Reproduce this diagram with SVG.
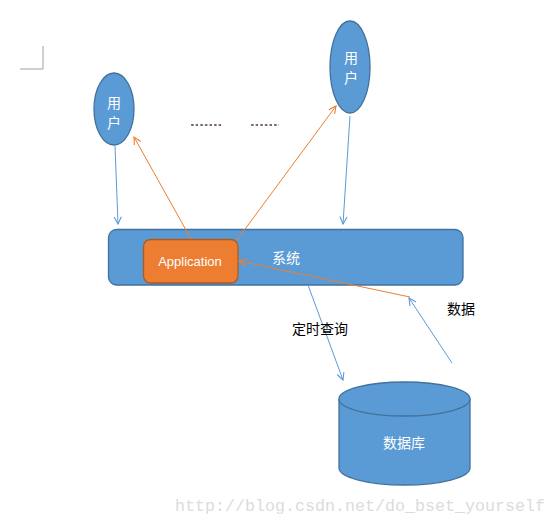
<svg xmlns="http://www.w3.org/2000/svg" width="557" height="524" viewBox="0 0 557 524">
<defs>
<style>
.blue{fill:#5b9bd5;stroke:#41719c;stroke-width:1.3}
.orange{fill:#ed7d31;stroke:#ae5a21;stroke-width:1.3}
.wt{fill:#ffffff;font-family:"Noto Sans CJK SC","Liberation Sans",sans-serif;font-size:14px;text-anchor:middle}
.bt{fill:#000000;font-family:"Noto Sans CJK SC","Liberation Sans",sans-serif;font-size:14px}
.cb{stroke:#5b9bd5;stroke-width:1;fill:none}
.co{stroke:#ed7d31;stroke-width:1;fill:none}
.dO{stroke:#c0703a;stroke-width:2.2;stroke-dasharray:2.4,2.2}
.dB{stroke:#3a6f9a;stroke-width:2.2;stroke-dasharray:1.2,3.4}
</style>
<marker id="ab" viewBox="0 0 10 10" refX="9" refY="5" markerWidth="9" markerHeight="9" orient="auto" markerUnits="userSpaceOnUse"><path d="M1,1 L9,5 L1,9" fill="none" stroke="#5b9bd5" stroke-width="1.2"/></marker>
<marker id="ao" viewBox="0 0 10 10" refX="9" refY="5" markerWidth="9" markerHeight="9" orient="auto" markerUnits="userSpaceOnUse"><path d="M1,1 L9,5 L1,9" fill="none" stroke="#ed7d31" stroke-width="1.2"/></marker>
</defs>
<rect width="557" height="524" fill="#ffffff"/>
<path d="M43,46 V69 H20" fill="none" stroke="#a0a0a0" stroke-width="1"/>
<g id="dots">
<line class="dO" x1="191" y1="125" x2="223" y2="125"/>
<line class="dB" x1="192.2" y1="125" x2="223" y2="125"/>
<line class="dO" x1="251" y1="125" x2="279" y2="125"/>
<line class="dB" x1="252.2" y1="125" x2="279" y2="125"/>
</g>
<g id="user1">
<ellipse class="blue" cx="114" cy="109" rx="20" ry="36"/>
<text class="wt" x="114" y="108">用</text>
<text class="wt" x="114" y="128">户</text>
</g>
<g id="user2">
<ellipse class="blue" cx="350" cy="67" rx="20" ry="46"/>
<text class="wt" x="351" y="63">用</text>
<text class="wt" x="351" y="83">户</text>
</g>
<g id="system">
<rect class="blue" x="108.5" y="229.5" width="354.5" height="55.5" rx="8"/>
<text class="wt" x="286" y="263">系统</text>
</g>
<g id="application">
<rect class="orange" x="143.5" y="239.5" width="94.5" height="43.5" rx="7"/>
<text x="190" y="266" fill="#ffffff" font-family="'Liberation Sans',sans-serif" font-size="13" text-anchor="middle">Application</text>
</g>
<g id="database">
<path class="blue" d="M339,399 V468 A65.5,17 0 0 0 470,468 V399"/>
<ellipse class="blue" cx="404.5" cy="399" rx="65.5" ry="17"/>
<text class="wt" x="404" y="448" font-size="15">数据库</text>
</g>
<g id="connectors">
<line class="cb" x1="115" y1="146" x2="118" y2="224" marker-end="url(#ab)"/>
<line class="cb" x1="350" y1="116" x2="343" y2="224" marker-end="url(#ab)"/>
<line class="co" x1="191" y1="239" x2="134" y2="137" marker-end="url(#ao)"/>
<line class="co" x1="237" y1="240" x2="336" y2="106" marker-end="url(#ao)"/>
<line class="co" x1="410" y1="297" x2="239" y2="261" marker-end="url(#ao)"/>
<line class="cb" x1="308" y1="285" x2="343" y2="380" marker-end="url(#ab)"/>
<line class="cb" x1="452" y1="363" x2="409" y2="298" marker-end="url(#ab)"/>
</g>
<text class="bt" x="292" y="334">定时查询</text>
<text class="bt" x="447" y="314">数据</text>
<text x="175" y="511" fill="#dcdcdc" font-family="'Liberation Mono','DejaVu Sans Mono',monospace" font-size="17" textLength="370" lengthAdjust="spacingAndGlyphs">http://blog.csdn.net/do_bset_yourself</text>
</svg>
